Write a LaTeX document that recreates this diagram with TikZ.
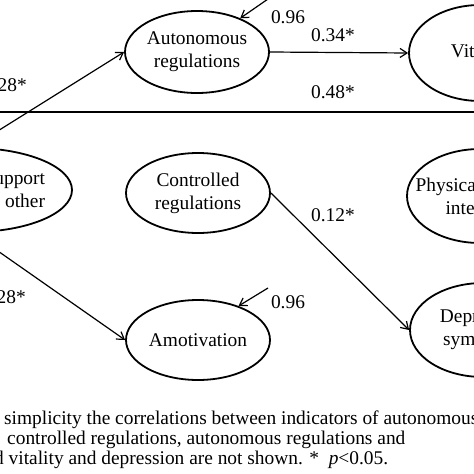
\documentclass[tikz,border=0pt]{standalone}
\usepackage{fontspec}
\setmainfont{Liberation Serif}
\usepackage{tikz}
\usetikzlibrary{
  % ellipse nodes
  shapes.geometric,%
  arrows.meta,%
  calc,%
  positioning
}
\tikzset{>={Straight Barb[length=7pt,width=9pt]}}
\tikzset{font=\fontsize{19.4}{23}\selectfont}
\tikzset{latent/.style={ellipse, draw, line width=1.8pt, inner xsep=-20pt,
    inner ysep=0pt, minimum width=144pt, minimum height=82pt, align=center}}
\tikzset{effect/.style={->, line width=1.2pt}}
\tikzset{corr/.style={line width=1.6pt}}
\tikzset{coef/.style={inner sep=0pt}}
\tikzset{note/.style={inner sep=0pt, anchor=base west,
    font=\fontsize{19.4}{20}\selectfont}}

\begin{document}
\begin{tikzpicture}[x=1pt, y=-1pt]
      \useasboundingbox (0, 0) rectangle (474, 474); %
      \fill[white] (0, 0) rectangle (474, 474); %
      \clip (0, 0) rectangle (474, 474); %
      % latent variables
      \node[latent, minimum width=200pt, minimum height=84pt, align=right]
      (support) at (-28, 190) {Autonomy support\\from the other}; %
      \node[latent] (auto) at (197, 52) {Autonomous\\regulations}; %
      \node[latent, minimum height=80pt] (ctrl) at (198, 193)
      {Controlled\\regulations}; %
      \node[latent, minimum height=80pt] (amot) at (198, 340) {Amotivation}; %
      \node[latent, minimum width=142pt, minimum height=96pt] (vital)
      at (480, 53) {Vitality}; %
      \node[latent, minimum width=146pt, minimum height=94pt] (phys)
      at (480, 196) {Physical activity\\intention}; %
      \node[latent, minimum width=146pt, minimum height=94pt] (depr)
      at (483, 330) {Depressive\\symptoms}; %
      % paths
      \draw[effect] (support.north) -- (auto.west); %
      \draw[effect] (support.south) -- (amot.west); %
      \draw[effect] (auto.east) -- (vital.west); %
      \draw[effect] (ctrl.east) -- (depr.west); %
      \coordinate (corrL) at (-60, 112); %
      \coordinate (corrR) at (540, 112); %
      \draw[corr] (corrL) -- (corrR); %
      % residuals
      \coordinate (e1) at (268, -1); %
      \coordinate (e2) at (268, 288); %
      \draw[effect] (e1) -- (auto.38); %
      \draw[effect] (e2) -- (amot.40); %
      % coefficients
      \node[coef] (b1) at (333, 35) {0.34*}; %
      \node[coef] (b2) at (333, 92) {0.48*}; %
      \node[coef, anchor=east] (b3) at (27, 85) {0.28*}; %
      \node[coef, anchor=east] (b4) at (26, 297) {0.28*}; %
      \node[coef] (b5) at (333, 215) {0.12*}; %
      \node[coef] (r1) at (288, 17) {0.96}; %
      \node[coef] (r2) at (288, 302) {0.96}; %
      % note
      \node[note] (cap1) at (4, 424)
      {\llap{For }simplicity the correlations between indicators of autonomous}; %
      \node[note] (cap2) at (7, 444)
      {controlled regulations, autonomous regulations and}; %
      \node[note] (cap3) at (-6, 464)
      {\llap{an}d vitality and depression are not shown. *\ \ \textit{p}<0.05.}; %
    \end{tikzpicture}
\end{document}
